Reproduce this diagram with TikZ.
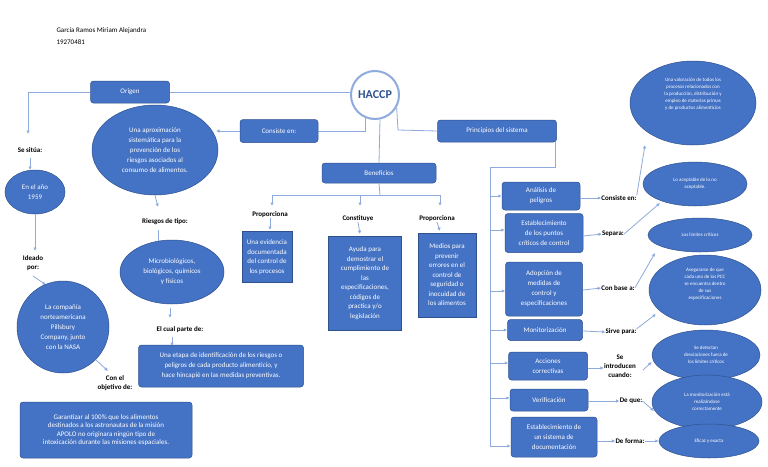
\documentclass[tikz,border=0pt]{standalone}
\usepackage{fontspec}
\setmainfont{Carlito}
\usetikzlibrary{shapes.geometric,arrows.meta}
\definecolor{fillb}{HTML}{4472C4}
\definecolor{lineb}{HTML}{8FAADC}
\definecolor{edgeb}{HTML}{2F528F}
\begin{document}
\begin{tikzpicture}[x=1pt,y=-1pt,
  box/.style={draw=edgeb,line width=0.5pt,fill=fillb,rounded corners=3pt,text=white,font=\fontsize{7}{8.5}\selectfont,align=center,inner sep=1pt},
  sq/.style={box,rounded corners=0pt,font=\fontsize{7}{9.5}\selectfont},
  ell/.style={draw=edgeb,line width=0.5pt,fill=fillb,ellipse,text=white,align=center,inner sep=0pt,font=\fontsize{7}{10}\selectfont},
  sell/.style={ell,font=\fontsize{5}{7}\selectfont},
  lab/.style={font=\bfseries\fontsize{7}{9}\selectfont,align=center,inner sep=0pt},
  con/.style={draw=lineb,line width=0.8pt},
  arr/.style={con,-{Latex[length=3.5pt,width=3.5pt]}}]
\useasboundingbox (0,0) rectangle (768,466);
\fill[white] (0,0) rectangle (768,466);
\node[anchor=west,font=\fontsize{7}{8}\selectfont] (name) at (53,31) {García Ramos Miriam Alejandra};
\node[anchor=west,font=\fontsize{7}{8}\selectfont] (num) at (53,42) {19270481};
% logo
\node[circle,draw=lineb,line width=2pt,minimum size=48pt,fill=white,font=\bfseries\fontsize{12}{12}\selectfont,text=edgeb] (logo) at (375,95) {HACCP};
\node[box,minimum width=79pt,minimum height=22pt] (origen) at (130,92) {Origen};
\draw[con] (origen.east) -- (origen.east -| logo.west);
\coordinate (c1) at (28,92);
\draw[arr] (origen.west) -- (c1) -- (28,134);
\node[lab] (sesitua) at (30,150) {Se sitúa:};
\draw[arr] (30,158) -- (30,170);
\node[ell,minimum width=60pt,minimum height=44pt] (anio) at (35,192) {En el año\\1959};
\draw[arr] (anio.south) -- (35,251);
\node[lab] (ideado) at (33,263) {Ideado\\por:};
\draw[arr] (33,276) -- (46,285);
\node[ell,minimum width=92pt,minimum height=92pt] (comp) at (63,327) {La compañía\\norteamericana\\Pillsbury\\Company, junto\\con la NASA};
\draw[arr] (comp.-45) -- (108,371);
\node[lab] (conel) at (115,383) {Con el\\objetivo de:};
\node[box,minimum width=172pt,minimum height=56pt] (garant) at (106,430) {Garantizar al 100\% que los alimentos\\destinados a los astronautas de la misión\\APOLO no originara ningún tipo de\\intoxicación durante las misiones espaciales.};
% consiste
\node[ell,minimum width=126pt,minimum height=90pt] (aprox) at (155,150) {Una aproximación\\sistemática para la\\prevención de los\\riesgos asociados al\\consumo de alimentos.};
\node[box,minimum width=78pt,minimum height=23pt] (consiste) at (279,131) {Consiste en:};
\draw[arr] (consiste.west) -- (216,131);
\draw[con] (consiste.east) -- (365,131) -- (365,118);
\draw[arr] (aprox.south) -- (158,207);
\node[lab] (riesgos) at (165,222) {Riesgos de tipo:};
\draw[arr] (158,230) -- (158,245);
\node[ell,minimum width=104pt,minimum height=64pt] (micro) at (172,272) {Microbiológicos,\\biológicos, químicos\\y físicos};
\draw[arr] (170,308) -- (170,318);
\node[lab] (cual) at (180,330) {El cual parte de:};
\draw[arr] (172,337) -- (172,346);
\node[box,minimum width=165pt,minimum height=42pt,font=\fontsize{7}{10}\selectfont] (etapa) at (221,366) {Una etapa de identificación de los riesgos o\\peligros de cada producto alimenticio, y\\hace hincapié en las medidas preventivas.};
% beneficios
\node[box,minimum width=114pt,minimum height=20pt] (benef) at (379,173) {Beneficios};
\draw[con] (380,120) -- (benef.north);
\draw[con] (benef.south) -- (380,195);
\draw[con] (272,195) -- (440,195);
\draw[arr] (272,195) -- (272,206);
\draw[arr] (360,195) -- (360,206);
\draw[arr] (440,195) -- (440,206);
\node[lab] (prop1) at (270,215) {Proporciona};
\node[lab] (const) at (358,219) {Constituye};
\node[lab] (prop2) at (437,219) {Proporciona};
\draw[arr] (prop1.south) -- (270,230);
\draw[arr] (const.south) -- (360,234);
\draw[arr] (prop2.south) -- (440,231);
\node[sq,minimum width=50pt,minimum height=51pt] (b1) at (267,257) {Una evidencia\\documentada\\del control de\\los procesos};
\node[sq,minimum width=73pt,minimum height=94pt] (b2) at (365,283) {Ayuda para\\demostrar el\\cumplimiento de\\las\\especificaciones,\\códigos de\\practica y/o\\legislación};
\node[sq,minimum width=58pt,minimum height=84pt] (b3) at (447,275) {Medios para\\prevenir\\errores en el\\control de\\seguridad o\\inocuidad de\\los alimentos};
% principios
\node[box,minimum width=119pt,minimum height=22pt] (princ) at (497,131) {Principios del sistema};
\draw[con] (logo.-30) -- (398,130) -- (princ.west);
\draw[con] (555,142) -- (555,167) -- (490,167) -- (490,446);
\tikzset{pb/.style={box,font=\fontsize{7}{10}\selectfont}}
\node[pb,minimum width=78pt,minimum height=28pt] (p1) at (541,196) {Análisis de\\peligros};
\node[pb,minimum width=78pt,minimum height=39pt] (p2) at (544,233) {Establecimiento\\de los puntos\\críticos de control};
\node[pb,minimum width=77pt,minimum height=54pt] (p3) at (544,289) {Adopción de\\medidas de\\control y\\especificaciones};
\node[pb,minimum width=75pt,minimum height=21pt] (p4) at (545,330) {Monitorización};
\node[pb,minimum width=79pt,minimum height=28pt] (p5) at (548,366) {Acciones\\correctivas};
\node[pb,minimum width=78pt,minimum height=22pt] (p6) at (549,400) {Verificación};
\node[pb,minimum width=86pt,minimum height=40pt] (p7) at (554,437) {Establecimiento de\\un sistema de\\documentación};
\foreach \p/\y in {p1/196,p2/230,p3/291,p4/330,p5/363,p6/398,p7/446}{\draw[arr] (490,\y) -- (\p.west |- 0,\y);}
\node[lab] (l1) at (619,198) {Consiste en:};
\node[lab] (l2) at (613,234) {Separa:};
\node[lab] (l3) at (618,288) {Con base a:};
\node[lab] (l4) at (621,332) {Sirve para:};
\node[lab] (l5) at (620,366) {Se\\introducen\\cuando:};
\node[lab] (l6) at (631,401) {De que:};
\node[lab] (l7) at (630,441) {De forma:};
\draw[arr] (p1.east |- 0,198) -- (l1.west);
\draw[arr] (p2.east |- 0,236) -- (l2.west);
\draw[arr] (p3.east |- 0,290) -- (l3.west);
\draw[arr] (p4.east |- 0,331) -- (l4.west);
\draw[arr] (p5.east |- 0,368) -- (l5.west |- 0,368);
\draw[arr] (p6.east |- 0,401) -- (l6.west);
\draw[arr] (p7.east |- 0,441) -- (l7.west);
\node[sell,minimum width=126pt,minimum height=84pt] (e1) at (693,103) {Una valoración de todos los\\procesos relacionados con\\la producción, distribución y\\empleo de materias primas\\y de productos alimenticios\\[12pt]};
\node[sell,minimum width=104pt,minimum height=44pt] (e2) at (695,184) {Lo aceptable de lo no\\aceptable.};
\node[sell,minimum width=104pt,minimum height=34pt] (e3) at (700,235) {Los limites críticos};
\node[sell,minimum width=112pt,minimum height=70pt] (e4) at (705,290) {Asegurarse de que\\cada uno de los PCC\\se encuentra dentro\\de sus\\especificaciones\\[6pt]};
\node[sell,minimum width=108pt,minimum height=50pt] (e5) at (706,355) {Se detectan\\desviaciones fuera de\\los limites críticos};
\node[sell,minimum width=110pt,minimum height=54pt] (e6) at (707,402) {La monitorización está\\realizándose\\correctamente};
\node[sell,minimum width=100pt,minimum height=34pt] (e7) at (709,441) {Eficaz y exacta};
\draw[arr] (l1.north east) -- (645,145);
\draw[arr] (l2.east) -- (660,203);
\draw[arr] (l3.east) -- (655,253);
\draw[arr] (l4.north east) -- (656,314);
\draw[arr] (643,370) -- (e5.west |- 0,362);
\draw[arr] (l6.east) -- (654,411);
\draw[arr] (l7.east) -- (e7.west);
\end{tikzpicture}
\end{document}
